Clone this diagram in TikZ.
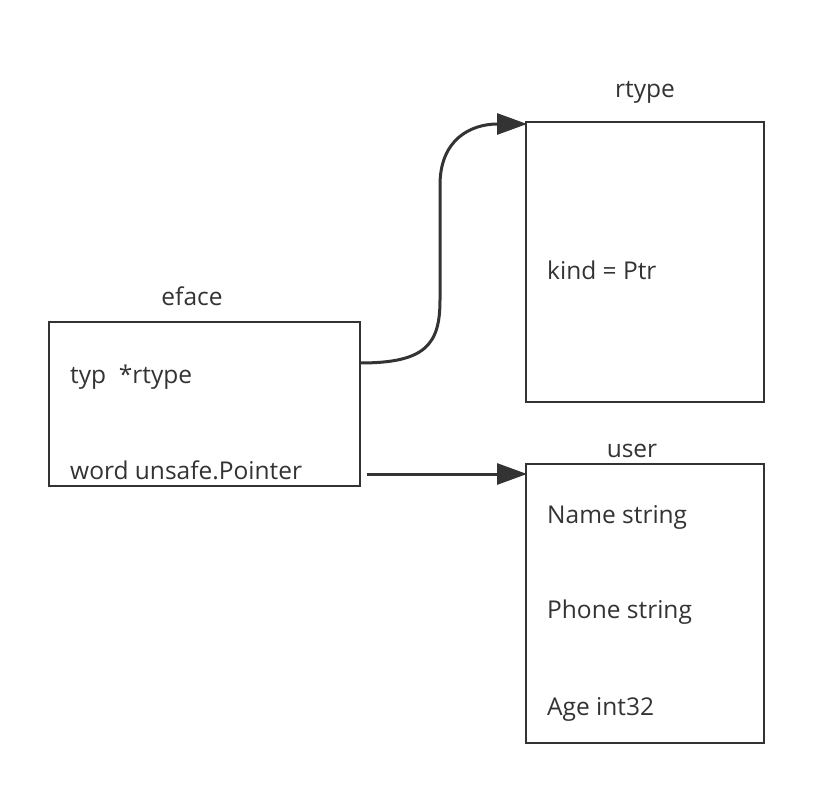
\documentclass[tikz,border=0pt]{standalone}
\usepackage{fontspec}
\setmainfont{Open Sans}
\usetikzlibrary{arrows.meta}
\begin{document}
\begin{tikzpicture}[x=1pt,y=-1pt,
  box/.style={draw=black!80,line width=1.5pt,minimum width=#1,inner sep=0pt},
  lbl/.style={font=\fontsize{24.5}{29}\selectfont,text=black!80,inner sep=0pt},
  fld/.style={lbl,anchor=west},
  conn/.style={draw=black!80,line width=3pt,-{Triangle[length=30pt,width=21pt]}}]
\useasboundingbox (0,0) rectangle (817,794);
\node[box=311pt,minimum height=164pt] (eface) at (204.5,404) {};
\node[box=238pt,minimum height=280pt] (rtype) at (645,262) {};
\node[box=238pt,minimum height=279pt] (user) at (645,603.5) {};
\node[lbl] (efacel) at (192,296) {eface};
\node[lbl] (rtypel) at (645,92) {rtype};
\node[lbl] (userl) at (632,451) {user};
\node[fld] (typ) at (70,377) {typ\ \ *rtype};
\node[fld] (word) at (70,470) {word unsafe.Pointer};
\node[fld] (kind) at (547,270) {kind = Ptr};
\node[fld] (name) at (547,517) {Name string};
\node[fld] (phone) at (547,612) {Phone string};
\node[fld] (age) at (547,709) {Age int32};
\coordinate (s1) at (360,363);
\coordinate (t1) at (527,124);
\coordinate (s2) at (367,474);
\coordinate (t2) at (527,474);
\draw[conn] (s1) .. controls (425,363) and (440,345) .. (440,300) -- (440,185) .. controls (440,140) and (470,124) .. (t1);
\draw[conn] (s2) -- (t2);
\end{tikzpicture}
\end{document}
